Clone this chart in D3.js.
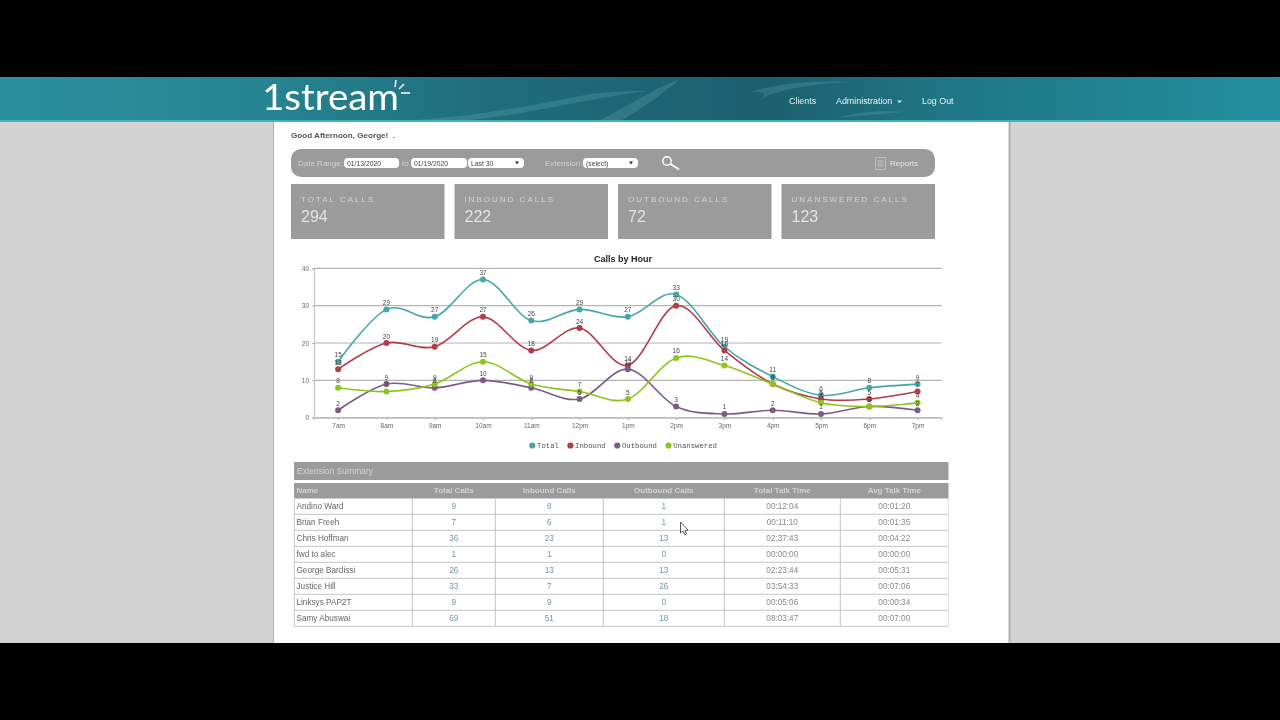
<!DOCTYPE html>
<html>
<head>
<meta charset="utf-8">
<title>Calls by Hour</title>
<script src="https://cdn.jsdelivr.net/npm/d3@7"></script>
<style>
html, body { margin: 0; padding: 0; background: #000; overflow: hidden; }
svg { display: block; filter: blur(0.45px); }
text { font-family: "Liberation Sans", Arial, sans-serif; }
</style>
</head>
<body>
<svg id="page" width="1280" height="720"></svg>
<script>
// chart data
var hours = ["7am","8am","9am","10am","11am","12pm","1pm","2pm","3pm","4pm","5pm","6pm","7pm"];
var seriesNames = ["Total","Inbound","Outbound","Unanswered"];
var seriesColors = ["#45a6aa","#b23c4a","#7c5c86","#8fc41c"];
var totalCalls = [15,29,27,37,26,29,27,33,19,11,6,8,9];
var inboundCalls = [13,20,19,27,18,24,14,30,18,9,5,5,7];
var outboundCalls = [2,9,8,10,8,5,13,3,1,2,1,3,2];
var unansweredCalls = [8,7,9,15,9,7,5,16,14,9,4,3,4];
var yTicks = [0,10,20,30,40];

// cards
var cardLabels = ["TOTAL CALLS","INBOUND CALLS","OUTBOUND CALLS","UNANSWERED CALLS"];
var cardValues = [294,222,72,123];

// extension table
var tableHeaders = ["Name","Total Calls","Inbound Calls","Outbound Calls","Total Talk Time","Avg Talk Time"];
var extNames = ["Andino Ward","Brian Freeh","Chris Hoffman","fwd to alec","George Bardissi","Justice Hill","Linksys PAP2T","Samy Abuswai"];
var extTotal = [9,7,36,1,26,33,9,69];
var extInbound = [8,6,23,1,13,7,9,51];
var extOutbound = [1,1,13,0,13,26,0,18];
var extTalk = ["00:12:04","00:11:10","02:37:43","00:00:00","02:23:44","03:54:33","00:05:06","08:03:47"];
var extAvg = ["00:01:20","00:01:35","00:04:22","00:00:00","00:05:31","00:07:06","00:00:34","00:07:00"];

var allSeries = [totalCalls,inboundCalls,outboundCalls,unansweredCalls];
var gris = "#9b9b9b";
var svg = d3.select("#page");

//------------------- page background ------------------------
svg.append("rect").attr("width",1280).attr("height",720).attr("fill","#000");
svg.append("rect").attr("y",77).attr("width",1280).attr("height",566).attr("fill","#d3d3d3");
svg.append("rect").attr("x",273).attr("y",120).attr("width",737.5).attr("height",523).attr("fill","#b0b0b0");
svg.append("rect").attr("x",274).attr("y",120).attr("width",734.5).attr("height",523).attr("fill","#fff");

//------------------- header band ------------------------
var defs = svg.append("defs");
var grad = defs.append("linearGradient").attr("id","bandeau");
[[0,"#2b8f9d"],[0.2,"#278593"],[0.38,"#1f6e7b"],[0.6,"#1c5f6d"],[0.72,"#1f7482"],[1,"#23909f"]].forEach(function(s){
    grad.append("stop").attr("offset",s[0]).attr("stop-color",s[1]);
});
svg.append("rect").attr("y",77).attr("width",1280).attr("height",43).attr("fill","url(#bandeau)");
svg.append("rect").attr("y",120).attr("width",1280).attr("height",2).attr("fill","#3fb3c0");

var vagues = [
    "M415,120 C480,116 540,104 590,94 C630,90 660,90 640,92 C590,98 530,114 470,120 Z",
    "M600,120 C625,108 650,90 680,79 C665,92 640,110 622,120 Z",
    "M750,92 C775,84 810,80 850,82 C810,84 775,90 760,100 C770,92 760,92 750,92 Z",
    "M835,118 C860,112 880,110 905,112 C880,114 860,116 835,118 Z"
];
svg.selectAll("path.vague").data(vagues).enter().append("path")
    .attr("class","vague").attr("d",function(d){return d;})
    .attr("fill","#9fdbe0").attr("opacity",0.16);

svg.append("text").attr("x",262).attr("y",110).attr("font-size",36).attr("fill","#fff")
    .attr("textLength",137).attr("lengthAdjust","spacingAndGlyphs")
    .style("font-family","Lato, sans-serif").text("1stream");
var etincelles = [[395,87,396,80],[399,89,404,84],[401,93,410,93]];
svg.selectAll("line.spark").data(etincelles).enter().append("line").attr("class","spark")
    .attr("x1",function(d){return d[0];}).attr("y1",function(d){return d[1];})
    .attr("x2",function(d){return d[2];}).attr("y2",function(d){return d[3];})
    .attr("stroke","#fff").attr("stroke-width",1.5);

var nav = [["Clients",789],["Administration",836],["Log Out",922]];
nav.forEach(function(n){
    svg.append("text").attr("x",n[1]).attr("y",104).attr("font-size",8.9).attr("fill","#e6f2f4").text(n[0]);
});
svg.append("path").attr("d","M897,100.5 h5 l-2.5,2.5 Z").attr("fill","#e6f2f4");

svg.append("text").attr("x",291).attr("y",138).attr("font-size",8.1).attr("font-weight","bold")
    .attr("fill","#555").attr("xml:space","preserve").text("Good Afternoon, George!  .");

//------------------- filter bar ------------------------
svg.append("rect").attr("x",291).attr("y",149).attr("width",644).attr("height",28).attr("rx",10).attr("fill",gris);
function champ(x, w, texte, fleche){
    svg.append("rect").attr("x",x).attr("y",158).attr("width",w).attr("height",10).attr("rx",4).attr("fill","#fff");
    svg.append("text").attr("x",x+3).attr("y",165.6).attr("font-size",6.8).attr("fill","#444").text(texte);
    if (fleche) {
        svg.append("path").attr("d","M"+(x+w-9)+",161.5 h4 l-2,3 Z").attr("fill","#333");
    }
}
var libelles = [["Date Range:",298],["to",402],["Extension:",545]];
libelles.forEach(function(l){
    svg.append("text").attr("x",l[1]).attr("y",165.6).attr("font-size",8).attr("fill","#cfcfcf").text(l[0]);
});
champ(344,55,"01/13/2020",false);
champ(411,56,"01/19/2020",false);
champ(468,56,"Last 30",true);
champ(583,55,"(select)",true);
svg.append("circle").attr("cx",667).attr("cy",161).attr("r",4.2).attr("fill","none").attr("stroke","#fff").attr("stroke-width",1.4);
svg.append("line").attr("x1",670.5).attr("y1",164).attr("x2",679).attr("y2",169.5).attr("stroke","#fff").attr("stroke-width",2);
svg.append("rect").attr("x",875.5).attr("y",157.5).attr("width",10).attr("height",12).attr("fill","none").attr("stroke","#c4c4c4").attr("stroke-width",0.8);
svg.append("rect").attr("x",877.5).attr("y",160).attr("width",6).attr("height",7).attr("fill","#adadad");
svg.append("text").attr("x",890).attr("y",165.6).attr("font-size",8).attr("fill","#e8e8e8").text("Reports");

//------------------- cards ------------------------
var cardX = d3.scaleBand().domain(cardLabels).range([291,935]).paddingInner(0.0612).paddingOuter(0);
var cards = svg.selectAll("g.card").data(cardLabels).enter().append("g").attr("class","card")
    .attr("transform",function(d){return "translate("+cardX(d)+",184)";});
cards.append("rect").attr("width",cardX.bandwidth()).attr("height",55).attr("fill",gris);
cards.append("text").attr("x",10).attr("y",18).attr("font-size",8).attr("letter-spacing",2)
    .attr("fill","#d4d4d4").text(function(d){return d;});
cards.append("text").attr("x",10).attr("y",38).attr("font-size",16).attr("fill","#e2e2e2")
    .text(function(d,i){return cardValues[i];});

//------------------- chart ------------------------
var x = d3.scalePoint().domain(hours).range([314,941.7]).padding(0.5);
var y = d3.scaleLinear().domain([0,40]).range([417.7,268.3]);

svg.append("text").attr("x",623).attr("y",261.5).attr("text-anchor","middle").attr("font-size",9)
    .attr("font-weight","bold").attr("fill","#222").text("Calls by Hour");

var grille = svg.append("g");
grille.selectAll("line").data(yTicks).enter().append("line")
    .attr("x1",314).attr("x2",941.7)
    .attr("y1",function(d){return y(d);}).attr("y2",function(d){return y(d);})
    .attr("stroke","#b4b4b4").attr("stroke-width",1.2);

var axeY = svg.append("g").attr("transform","translate(314,0)")
    .call(d3.axisLeft(y).tickValues(yTicks).tickSize(2).tickPadding(3));
var axeX = svg.append("g").attr("transform","translate(0,417.7)")
    .call(d3.axisBottom(x).tickSize(2.5).tickPadding(3));
[axeX,axeY].forEach(function(a){
    a.selectAll(".domain").attr("stroke","#c4c4c4").attr("stroke-width",1.2);
    a.selectAll(".tick line").attr("stroke","#b4b4b4");
    a.selectAll("text").attr("font-size",6.5).attr("fill","#666").style("font-family","'Liberation Sans',sans-serif");
});

var courbe = d3.line()
    .x(function(d,i){return x(hours[i]);})
    .y(function(d){return y(d);})
    .curve(d3.curveCardinal.tension(0));

svg.selectAll("path.serie").data(allSeries).enter().append("path").attr("class","serie")
    .attr("d",courbe).attr("fill","none").attr("stroke-width",1.6)
    .attr("stroke",function(d,i){return seriesColors[i];});

allSeries.forEach(function(serie,s){
    svg.append("g").selectAll("circle").data(serie).enter().append("circle")
        .attr("cx",function(d,i){return x(hours[i]);})
        .attr("cy",function(d){return y(d);})
        .attr("r",3).attr("fill",seriesColors[s]);
});
allSeries.forEach(function(serie){
    svg.append("g").selectAll("text").data(serie).enter().append("text")
        .attr("x",function(d,i){return x(hours[i]);})
        .attr("y",function(d){return y(d)-4.5;})
        .attr("text-anchor","middle").attr("font-size",6.5).attr("fill","#444")
        .text(function(d){return d;});
});

// legend, spaced from the label lengths
var posLegende = 532.3;
seriesNames.forEach(function(nom,i){
    svg.append("circle").attr("cx",posLegende).attr("cy",445.5).attr("r",3.1).attr("fill",seriesColors[i]);
    svg.append("text").attr("x",posLegende+4.7).attr("y",447.8).attr("font-size",7.3).attr("fill","#555")
        .style("font-family","'Liberation Mono',monospace").text(nom);
    posLegende += 4.7 + nom.length*4.38 + 11.5;
});

//------------------- table ------------------------
var colEdges = [294.3,412.3,495.3,603.3,724.3,840.3,948.3];
svg.append("rect").attr("x",294).attr("y",462).attr("width",654.5).attr("height",18).attr("fill",gris);
svg.append("text").attr("x",297).attr("y",474).attr("font-size",8.5).attr("fill","#d4d4d4").text("Extension Summary");
svg.append("rect").attr("x",294).attr("y",483).attr("width",654.5).attr("height",15.5).attr("fill",gris);

function colCentre(i){ return (colEdges[i]+colEdges[i+1])/2; }
tableHeaders.forEach(function(h,i){
    svg.append("text").attr("x",i==0 ? 296.5 : colCentre(i)).attr("y",493)
        .attr("text-anchor",i==0 ? "start" : "middle").attr("font-size",8).attr("font-weight","bold")
        .attr("fill","#d2d2d2").text(h);
});

var rowY = d3.scaleBand().domain(extNames).range([498.3,626.3]);
extNames.forEach(function(nom,r){
    var yb = rowY(nom)+rowY.bandwidth();
    svg.append("line").attr("x1",294.3).attr("x2",948.3).attr("y1",yb).attr("y2",yb).attr("stroke","#bdbdbd").attr("stroke-width",0.9);
    var cells = [nom,extTotal[r],extInbound[r],extOutbound[r],extTalk[r],extAvg[r]];
    cells.forEach(function(c,i){
        svg.append("text").attr("x",i==0 ? 296.5 : colCentre(i)).attr("y",yb-5.2)
            .attr("text-anchor",i==0 ? "start" : "middle").attr("font-size",8.2)
            .attr("fill",i==0 ? "#666" : (i<4 ? "#6f98a8" : "#888")).text(c);
    });
});
colEdges.forEach(function(e,i){
    svg.append("line").attr("x1",e).attr("x2",e).attr("y1",498.3).attr("y2",626.3)
        .attr("stroke",i==6 ? "#dcdcdc" : "#bdbdbd").attr("stroke-width",0.9);
});

// mouse pointer
svg.append("path").attr("d","M680.5,522 L680.5,533 L683,531 L685,535 L686.5,534 L685,530.5 L688,530 Z")
    .attr("fill","#fff").attr("stroke","#333").attr("stroke-width",0.8);
</script>
</body>
</html>
